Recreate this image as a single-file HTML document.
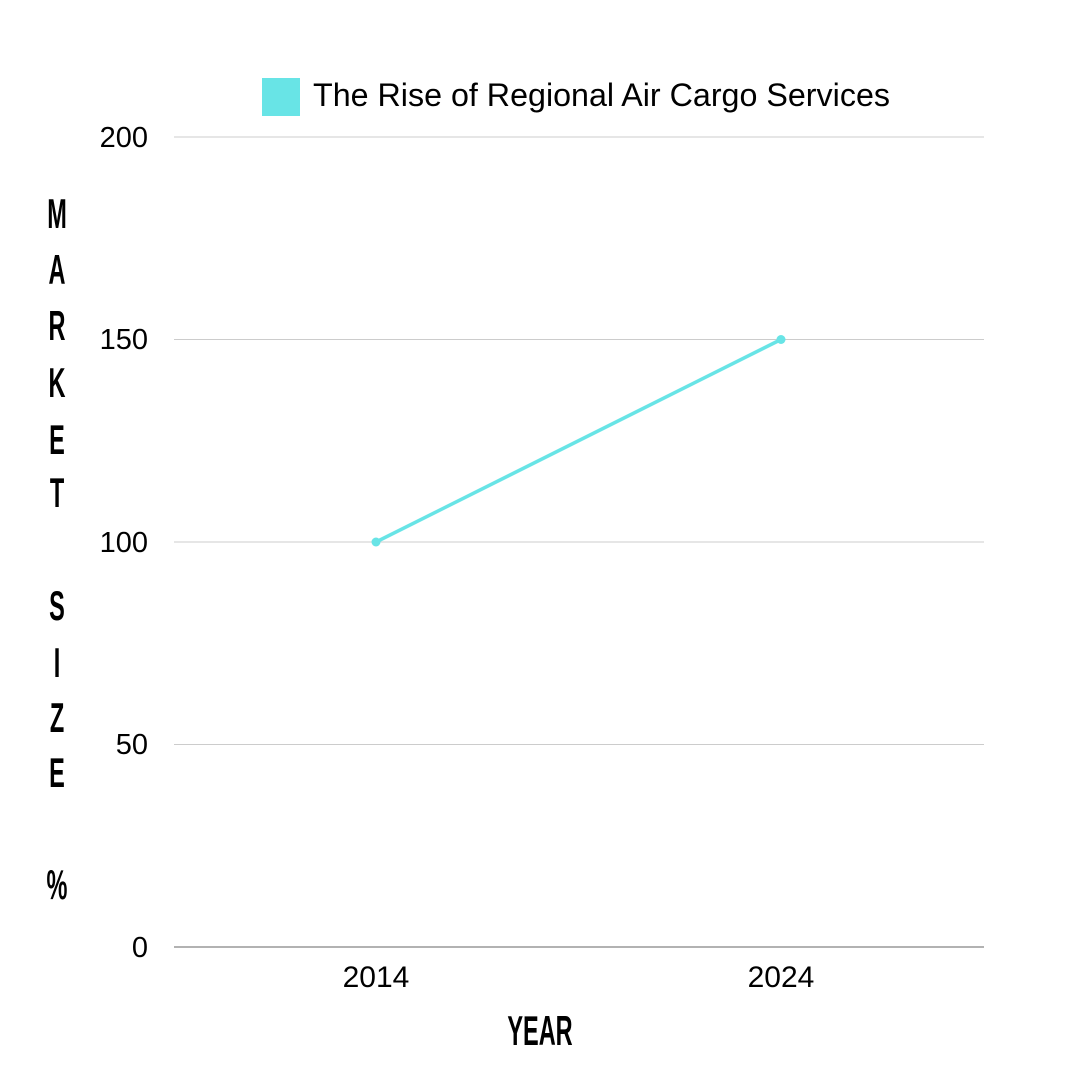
<!DOCTYPE html>
<html><head><meta charset="utf-8"><style>
body{margin:0;background:#fff;}
svg text{font-family:"Liberation Sans",sans-serif;fill:#000;}
.c{font-family:"Liberation Sans Narrow","Liberation Sans",sans-serif;font-size:42px;font-weight:bold;}
</style></head><body>
<svg width="1080" height="1080" viewBox="0 0 1080 1080" xmlns="http://www.w3.org/2000/svg">
<rect width="1080" height="1080" fill="#fff"/>
<rect x="262" y="78" width="38" height="38" fill="#68e4e6"/>
<text x="313" y="106" font-size="32" textLength="577" lengthAdjust="spacingAndGlyphs">The Rise of Regional Air Cargo Services</text>
<g stroke="#cccccc" stroke-width="1">
<line x1="174" y1="137" x2="984" y2="137"/>
<line x1="174" y1="339.5" x2="984" y2="339.5"/>
<line x1="174" y1="542" x2="984" y2="542"/>
<line x1="174" y1="744.5" x2="984" y2="744.5"/>
</g>
<line x1="174" y1="947" x2="984" y2="947" stroke="#999" stroke-width="1.5"/>
<g font-size="29" text-anchor="end">
<text x="148" y="147">200</text>
<text x="148" y="349">150</text>
<text x="148" y="552">100</text>
<text x="148" y="754">50</text>
<text x="148" y="957">0</text>
</g>
<g font-size="30" text-anchor="middle">
<text x="376" y="987">2014</text>
<text x="781" y="987">2024</text>
</g>
<polyline points="376,542 781,339.5" fill="none" stroke="#68e4e6" stroke-width="3.5"/>
<circle cx="376" cy="542" r="4.5" fill="#68e4e6"/>
<circle cx="781" cy="339.5" r="4.5" fill="#68e4e6"/>
<g class="c" text-anchor="middle">
<g transform="translate(540,1045) scale(0.56,1)"><text x="0" y="0">YEAR</text></g>
<g transform="translate(57,0) scale(0.56,1)">
<text x="0" y="228">M</text>
<text x="0" y="284">A</text>
<text x="0" y="340">R</text>
<text x="0" y="397">K</text>
<text x="0" y="454">E</text>
<text x="0" y="507">T</text>
<text x="0" y="620">S</text>
<text x="0" y="677">I</text>
<text x="0" y="732">Z</text>
<text x="0" y="787">E</text>
<text x="0" y="899">%</text>
</g>
</g>
</svg>
</body></html>
